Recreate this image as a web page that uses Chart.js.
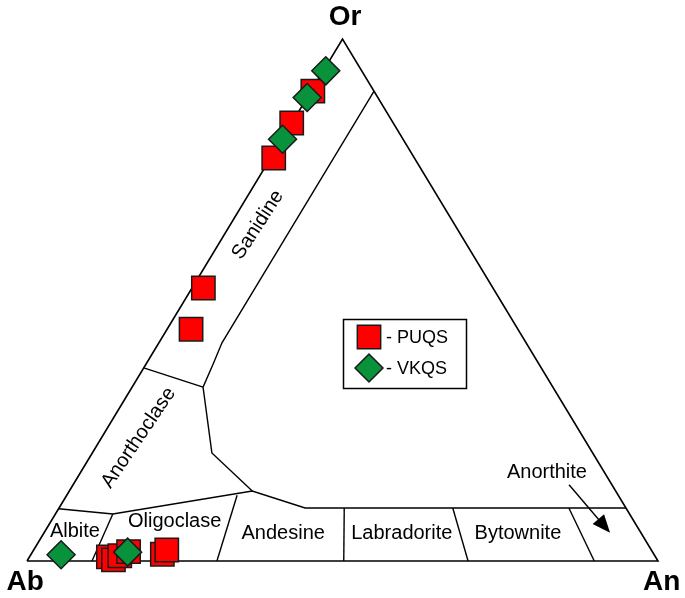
<!DOCTYPE html>
<html>
<head>
<meta charset="utf-8">
<script src="https://cdn.jsdelivr.net/npm/chart.js@4.4.1/dist/chart.umd.min.js"></script>
<style>
  html, body { margin: 0; padding: 0; background: #fff; }
  #wrap { width: 685px; height: 598px; }
</style>
</head>
<body>
<div id="wrap"><canvas id="myChart" width="685" height="598"></canvas></div>
<script>
// feldspar compositions in mol % (Ab = 100 - An - Or)
let puqsAn = [0.3, 0, 0.5, 1.8, 3.8, 12.5, 13.6, 14.2, 15.2, 20.8, 21.1];
let puqsOr = [90.0, 83.9, 77.2, 52.3, 44.4, 0.8, 0.2, 1.0, 1.8, 1.3, 2.1];
let vkqsAn = [0.4, 0, 0.1, 4.8, 15.1];
let vkqsOr = [93.9, 88.8, 80.8, 1.2, 1.7];

// triangle outline and field boundaries, [An, Or] pairs
let outline = [[0, 0], [100, 0], [0, 100], [0, 0]];
let fieldLines = [
  [[0, 10], [9.1, 9], [29, 13.4], [39, 10.15], [89.85, 10.15]],
  [[9.1, 9], [10.3, 0]],
  [[27, 12.6], [30.1, 0]],
  [[45.2, 10.15], [50.2, 0]],
  [[62.4, 10.15], [69.9, 0]],
  [[80.8, 10.15], [89.9, 0]],
  [[29, 13.4], [18.95, 20.7], [11.25, 33.3], [10.6, 37.9], [10, 41.8], [10, 90]],
  [[0, 37], [11.25, 33.3]]
];
let anorthiteArrow = [[78.6, 14.6], [89.7, 5.4]];

// field names
let fieldNames = ["Albite", "Oligoclase", "Andesine", "Labradorite", "Bytownite", "Anorthite", "Sanidine", "Anorthoclase"];
let vertexNames = ["Ab", "An", "Or"];
let seriesNames = ["- PUQS", "- VKQS"];

// ternary -> plot units
function tern(an, or) {
  return { x: an + or / 2, y: or };
}
function path(pairs) {
  return pairs.map(p => tern(p[0], p[1]));
}

const FONT = '"Liberation Sans", Arial, Helvetica, sans-serif';
const RED = '#ff0000';
const GREEN = '#07923b';
const EDGE = '#1a1a1a';

// where the names sit, plot units (x across Ab-An, y up to Or)
let fieldPlaces = [
  { x: 7.6, y: 5.75, rot: 0 },
  { x: 23.4, y: 7.5, rot: 0 },
  { x: 40.6, y: 5.2, rot: 0 },
  { x: 59.4, y: 5.2, rot: 0 },
  { x: 77.8, y: 5.2, rot: 0 },
  { x: 82.4, y: 16.9, rot: 0 },
  { x: 36.6, y: 64.4, rot: -57 },
  { x: 17.7, y: 23.6, rot: -56 }
];
let vertexPlaces = [
  { x: -0.3, y: -4.0 },
  { x: 100.6, y: -4.0 },
  { x: 50.4, y: 104.2 }
];

let lineSet = (pairs, w) => ({
  type: 'scatter',
  data: path(pairs),
  showLine: true,
  pointRadius: 0,
  borderColor: '#000',
  borderWidth: w,
  fill: false,
  tension: 0,
  order: 5,
  clip: false
});

let datasets = [
  {
    label: seriesNames[1],
    data: vkqsAn.map((a, i) => tern(a, vkqsOr[i])),
    pointStyle: 'rectRot',
    pointRadius: 14,
    backgroundColor: GREEN,
    borderColor: EDGE,
    borderWidth: 1.5,
    order: 0,
    clip: false
  },
  {
    label: seriesNames[0],
    data: puqsAn.map((a, i) => tern(a, puqsOr[i])),
    pointStyle: 'rect',
    pointRadius: 16.5,
    backgroundColor: RED,
    borderColor: EDGE,
    borderWidth: 1.5,
    order: 1,
    clip: false
  },
  lineSet(outline, 1.6)
].concat(fieldLines.map(l => lineSet(l, 1.4)));

let annotate = {
  id: 'annotate',
  beforeDatasetsDraw(chart) {
    let { ctx, scales: { x, y } } = chart;
    ctx.save();
    ctx.fillStyle = '#000';
    ctx.textAlign = 'center';
    ctx.textBaseline = 'middle';
    ctx.font = '20px ' + FONT;
    fieldNames.forEach((name, i) => {
      let p = fieldPlaces[i];
      ctx.save();
      ctx.translate(x.getPixelForValue(p.x), y.getPixelForValue(p.y));
      ctx.rotate(p.rot * Math.PI / 180);
      ctx.fillText(name, 0, 0);
      ctx.restore();
    });

    ctx.font = 'bold 28px ' + FONT;
    vertexNames.forEach((name, i) => {
      let p = vertexPlaces[i];
      ctx.fillText(name, x.getPixelForValue(p.x), y.getPixelForValue(p.y));
    });

    // arrow to the anorthite field
    let a = path(anorthiteArrow);
    let x0 = x.getPixelForValue(a[0].x), y0 = y.getPixelForValue(a[0].y);
    let x1 = x.getPixelForValue(a[1].x), y1 = y.getPixelForValue(a[1].y);
    let ang = Math.atan2(y1 - y0, x1 - x0);
    ctx.strokeStyle = '#000';
    ctx.lineWidth = 1.4;
    ctx.beginPath();
    ctx.moveTo(x0, y0);
    ctx.lineTo(x1 - 10 * Math.cos(ang), y1 - 10 * Math.sin(ang));
    ctx.stroke();
    ctx.beginPath();
    ctx.moveTo(x1, y1);
    ctx.lineTo(x1 - 18 * Math.cos(ang) + 7.5 * Math.sin(ang), y1 - 18 * Math.sin(ang) - 7.5 * Math.cos(ang));
    ctx.lineTo(x1 - 18 * Math.cos(ang) - 7.5 * Math.sin(ang), y1 - 18 * Math.sin(ang) + 7.5 * Math.cos(ang));
    ctx.closePath();
    ctx.fill();
    ctx.restore();
  },
  afterDraw(chart) {
    let { ctx } = chart;
    // legend box
    ctx.save();
    ctx.fillStyle = '#fff';
    ctx.strokeStyle = '#000';
    ctx.lineWidth = 1.5;
    ctx.fillRect(343.5, 319.5, 123, 69);
    ctx.strokeRect(343.5, 319.5, 123, 69);

    let ds = [chart.data.datasets[1], chart.data.datasets[0]];
    ds.forEach((d, i) => {
      let cy = 337 + i * 31;
      ctx.fillStyle = d.backgroundColor;
      ctx.strokeStyle = d.borderColor;
      ctx.lineWidth = d.borderWidth;
      Chart.helpers.drawPoint(ctx, {
        pointStyle: d.pointStyle,
        rotation: 0,
        radius: d.pointRadius,
        borderWidth: d.borderWidth
      }, 369, cy);
      ctx.fillStyle = '#000';
      ctx.font = '18px ' + FONT;
      ctx.textAlign = 'left';
      ctx.textBaseline = 'middle';
      ctx.fillText(d.label, 386, cy + 1);
    });
    ctx.restore();
  }
};

let chart = new Chart(document.getElementById('myChart'), {
  type: 'scatter',
  data: { datasets },
  options: {
    responsive: false,
    animation: false,
    events: [],
    layout: { padding: { left: 27, right: 27, top: 39, bottom: 37 } },
    scales: {
      x: { type: 'linear', min: 0, max: 100, display: false },
      y: { type: 'linear', min: 0, max: 100, display: false }
    },
    plugins: {
      legend: { display: false },
      tooltip: { enabled: false }
    }
  },
  plugins: [annotate]
});
</script>
</body>
</html>
